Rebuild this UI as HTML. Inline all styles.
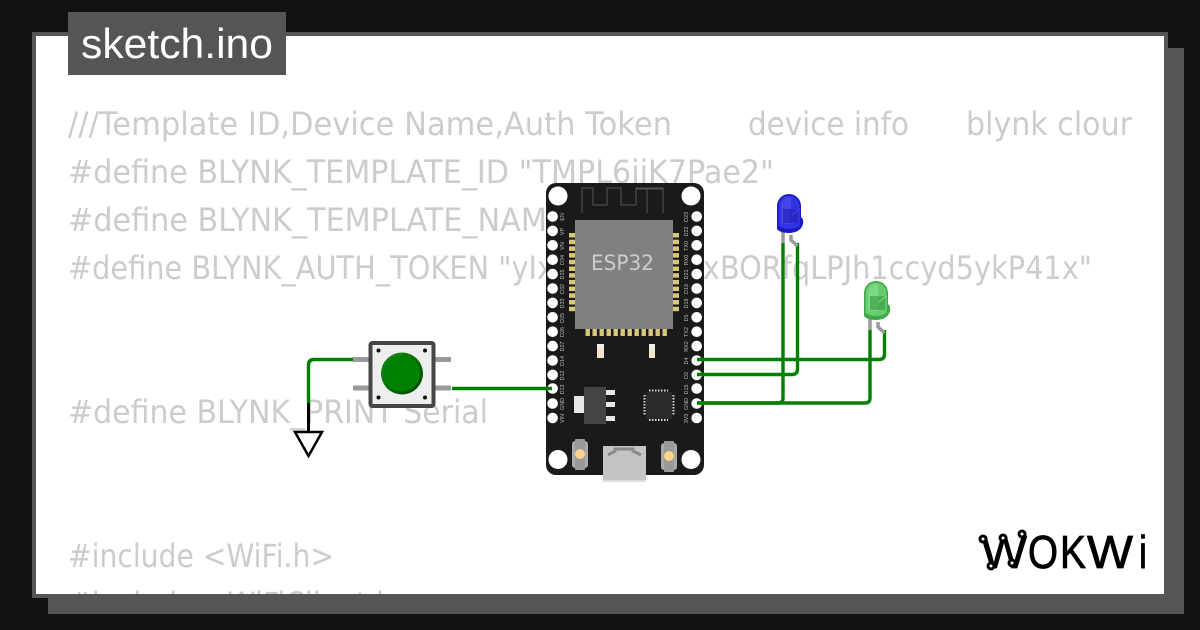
<!DOCTYPE html>
<html><head><meta charset="utf-8"><style>
html,body{margin:0;padding:0;background:#111}
svg{display:block}
</style></head><body>
<svg xmlns="http://www.w3.org/2000/svg" width="1200" height="630" viewBox="0 0 1200 630">
<defs>
<linearGradient id="btn" x1="0" y1="0" x2="1" y2="1"><stop offset="0" stop-color="#1f8a1f"/><stop offset=".55" stop-color="#006c00"/><stop offset="1" stop-color="#003c00"/></linearGradient>
</defs>
<rect width="1200" height="630" fill="#111"/>
<rect x="48" y="48" width="1136" height="566" fill="#555"/>
<rect x="32" y="32" width="1136" height="566" fill="#555"/>
<rect x="36" y="36" width="1128" height="558" fill="#fff"/>
<clipPath id="c"><rect x="36" y="36" width="1128" height="558"/></clipPath>
<g clip-path="url(#c)" font-family="'DejaVu Sans',sans-serif" font-size="32" fill="#ccc">
<text x="68" y="135" textLength="604" lengthAdjust="spacingAndGlyphs">///Template ID,Device Name,Auth Token</text>
<text x="748" y="135" textLength="161" lengthAdjust="spacingAndGlyphs">device info</text>
<text x="966" y="135" textLength="166" lengthAdjust="spacingAndGlyphs">blynk clour</text>
<text x="68" y="183" textLength="706" lengthAdjust="spacingAndGlyphs">#define BLYNK_TEMPLATE_ID "TMPL6jiK7Pae2"</text>
<text x="68" y="231" textLength="498" lengthAdjust="spacingAndGlyphs">#define BLYNK_TEMPLATE_NAME</text>
<text x="68" y="279" textLength="1024" lengthAdjust="spacingAndGlyphs">#define BLYNK_AUTH_TOKEN "yIxKcDqT3sQxBORfqLPJh1ccyd5ykP41x"</text>
<text x="68" y="423" textLength="420" lengthAdjust="spacingAndGlyphs">#define BLYNK_PRINT Serial</text>
<text x="68" y="567" textLength="266" lengthAdjust="spacingAndGlyphs">#include &lt;WiFi.h&gt;</text>
<text x="68" y="615" textLength="350" lengthAdjust="spacingAndGlyphs">#include &lt;WiFiClient.h&gt;</text>
</g>
<rect x="68" y="12" width="218" height="63" fill="#555"/>
<text x="81" y="58" font-family="'Liberation Sans',sans-serif" font-size="42" fill="#fff" textLength="192" lengthAdjust="spacingAndGlyphs">sketch.ino</text>

<!-- board -->
<rect x="546" y="183" width="158" height="292" rx="10" fill="#1a1a1a"/>
<path d="M582 213V188H593V205H607V188H621V205H636V188H663V213M647 188V213M582 188H593M636 189H663" fill="none" stroke="#555" stroke-width="1"/>
<g fill="#fff">
<circle cx="558" cy="196" r="9.5"/><circle cx="691" cy="196" r="9.5"/>
<circle cx="558" cy="459.5" r="9.5"/><circle cx="691" cy="459.5" r="9.5"/>
</g>
<g fill="#fff" id="holes">
<circle cx="552.6" cy="216.5" r="5.3"/><circle cx="552.6" cy="230.9" r="5.3"/><circle cx="552.6" cy="245.3" r="5.3"/><circle cx="552.6" cy="259.7" r="5.3"/><circle cx="552.6" cy="274.1" r="5.3"/><circle cx="552.6" cy="288.5" r="5.3"/><circle cx="552.6" cy="302.9" r="5.3"/><circle cx="552.6" cy="317.3" r="5.3"/><circle cx="552.6" cy="331.7" r="5.3"/><circle cx="552.6" cy="346.1" r="5.3"/><circle cx="552.6" cy="360.5" r="5.3"/><circle cx="552.6" cy="374.9" r="5.3"/><circle cx="552.6" cy="388.5" r="5.3"/><circle cx="552.6" cy="403.5" r="5.3"/><circle cx="552.6" cy="418" r="5.3"/>
<circle cx="696.7" cy="216.5" r="5.3"/><circle cx="696.7" cy="230.9" r="5.3"/><circle cx="696.7" cy="245.3" r="5.3"/><circle cx="696.7" cy="259.7" r="5.3"/><circle cx="696.7" cy="274.1" r="5.3"/><circle cx="696.7" cy="288.5" r="5.3"/><circle cx="696.7" cy="302.9" r="5.3"/><circle cx="696.7" cy="317.3" r="5.3"/><circle cx="696.7" cy="331.7" r="5.3"/><circle cx="696.7" cy="346.1" r="5.3"/><circle cx="696.7" cy="360.5" r="5.3"/><circle cx="696.7" cy="374.9" r="5.3"/><circle cx="696.7" cy="388.5" r="5.3"/><circle cx="696.7" cy="403.5" r="5.3"/><circle cx="696.7" cy="418" r="5.3"/>
</g>
<!-- gold pads -->
<g fill="#d8c878">
<rect x="569" y="233" width="6" height="4.5"/><rect x="569" y="239.7" width="6" height="4.5"/><rect x="569" y="246.4" width="6" height="4.5"/><rect x="569" y="253.1" width="6" height="4.5"/><rect x="569" y="259.8" width="6" height="4.5"/><rect x="569" y="266.5" width="6" height="4.5"/><rect x="569" y="273.2" width="6" height="4.5"/><rect x="569" y="279.9" width="6" height="4.5"/><rect x="569" y="286.6" width="6" height="4.5"/><rect x="569" y="293.3" width="6" height="4.5"/><rect x="569" y="300" width="6" height="4.5"/><rect x="569" y="306.7" width="6" height="4.5"/>
<rect x="673" y="233" width="6" height="4.5"/><rect x="673" y="239.7" width="6" height="4.5"/><rect x="673" y="246.4" width="6" height="4.5"/><rect x="673" y="253.1" width="6" height="4.5"/><rect x="673" y="259.8" width="6" height="4.5"/><rect x="673" y="266.5" width="6" height="4.5"/><rect x="673" y="273.2" width="6" height="4.5"/><rect x="673" y="279.9" width="6" height="4.5"/><rect x="673" y="286.6" width="6" height="4.5"/><rect x="673" y="293.3" width="6" height="4.5"/><rect x="673" y="300" width="6" height="4.5"/><rect x="673" y="306.7" width="6" height="4.5"/>
<rect x="585.5" y="329" width="4.4" height="7"/><rect x="592.5" y="329" width="4.4" height="7"/><rect x="599.5" y="329" width="4.4" height="7"/><rect x="606.5" y="329" width="4.4" height="7"/><rect x="613.5" y="329" width="4.4" height="7"/><rect x="620.5" y="329" width="4.4" height="7"/><rect x="627.5" y="329" width="4.4" height="7"/><rect x="634.5" y="329" width="4.4" height="7"/><rect x="641.5" y="329" width="4.4" height="7"/><rect x="648.5" y="329" width="4.4" height="7"/><rect x="655.5" y="329" width="4.4" height="7"/><rect x="662.5" y="329" width="4.4" height="7"/>
</g>
<rect x="575" y="220" width="98" height="109" fill="#808080"/>
<text x="591" y="270" font-family="'DejaVu Sans',sans-serif" font-size="21" fill="#ccc" textLength="63" lengthAdjust="spacingAndGlyphs">ESP32</text>
<!-- pin labels -->
<g font-family="'Liberation Sans',sans-serif" font-size="5.4" fill="#bbb" text-anchor="middle">
<text transform="translate(564,217) rotate(-90)">EN</text>
<text transform="translate(564,231.5) rotate(-90)">VP</text>
<text transform="translate(564,246) rotate(-90)">VN</text>
<text transform="translate(564,260) rotate(-90)">D34</text>
<text transform="translate(564,274.5) rotate(-90)">D35</text>
<text transform="translate(564,289) rotate(-90)">D32</text>
<text transform="translate(564,303.5) rotate(-90)">D33</text>
<text transform="translate(564,318) rotate(-90)">D25</text>
<text transform="translate(564,332) rotate(-90)">D26</text>
<text transform="translate(564,346.5) rotate(-90)">D27</text>
<text transform="translate(564,361) rotate(-90)">D14</text>
<text transform="translate(564,375.5) rotate(-90)">D12</text>
<text transform="translate(564,389.5) rotate(-90)">D13</text>
<text transform="translate(564,404) rotate(-90)">GND</text>
<text transform="translate(564,418.5) rotate(-90)">VIN</text>
<text transform="translate(688,217) rotate(-90)">D23</text>
<text transform="translate(688,231.5) rotate(-90)">D22</text>
<text transform="translate(688,246) rotate(-90)">TX0</text>
<text transform="translate(688,260) rotate(-90)">RX0</text>
<text transform="translate(688,274.5) rotate(-90)">D21</text>
<text transform="translate(688,289) rotate(-90)">D19</text>
<text transform="translate(688,303.5) rotate(-90)">D18</text>
<text transform="translate(688,318) rotate(-90)">D5</text>
<text transform="translate(688,332) rotate(-90)">TX2</text>
<text transform="translate(688,346.5) rotate(-90)">RX2</text>
<text transform="translate(688,361) rotate(-90)">D4</text>
<text transform="translate(688,375.5) rotate(-90)">D2</text>
<text transform="translate(688,389.5) rotate(-90)">D15</text>
<text transform="translate(688,404) rotate(-90)">GND</text>
<text transform="translate(688,418.5) rotate(-90)">3V3</text>
</g>
<!-- smd leds -->
<rect x="597" y="344" width="7" height="14" fill="#eee"/><rect x="597" y="349" width="7" height="9" fill="#f5e6c8"/>
<rect x="649" y="344" width="6" height="14" fill="#eee"/><rect x="649" y="349" width="6" height="9" fill="#f5e6c8"/>
<!-- regulator -->
<rect x="574" y="396" width="11" height="17" fill="#e8e8e8"/>
<rect x="606" y="390" width="9" height="5" fill="#e8e8e8"/><rect x="606" y="402" width="9" height="5" fill="#e8e8e8"/><rect x="606" y="416" width="9" height="5" fill="#e8e8e8"/>
<rect x="584" y="387" width="22" height="37" fill="#444"/>
<!-- qfn -->
<rect x="646" y="392" width="26" height="27" fill="#2b2b2b"/>
<g fill="none" stroke="#ddd" stroke-width="2" stroke-dasharray="1.5 1.5">
<path d="M649 390.5H668M649 420H668M644.5 395V416M673.5 395V416"/>
</g>
<!-- tact buttons -->
<rect x="572" y="441" width="16" height="27" rx="3" fill="#aaa"/>
<rect x="575" y="439" width="10" height="31" rx="1" fill="#999"/>
<circle cx="580" cy="454" r="5" fill="#fbd38d"/>
<rect x="661" y="443" width="16" height="27" rx="3" fill="#aaa"/>
<rect x="664" y="441" width="10" height="31" rx="1" fill="#999"/>
<circle cx="669" cy="456" r="5" fill="#fbd38d"/>
<!-- usb -->
<rect x="603" y="446" width="43" height="35" fill="#c4c4c4"/>
<path d="M608 455L615 451L615 449H633V451L641 455" fill="none" stroke="#8a8a8a" stroke-width="3"/>
<path d="M603 481H646" stroke="#ddd" stroke-width="2"/>

<!-- wires -->
<g fill="none" stroke="#008000" stroke-width="3.4">
<path d="M355 359.5H314Q308.5 359.5 308.5 365V403"/>
<path d="M452 388.5H552"/>
<path d="M697 359.5H879Q884.5 359.5 884.5 354V330"/>
<path d="M697 374.5H792Q797.5 374.5 797.5 369V243"/>
<path d="M697 403H778Q783 403 783 398V243"/>
<path d="M697 403H865Q870 403 870 398V330"/>
</g>
<!-- gnd -->
<path d="M308.5 403V431" stroke="#000" stroke-width="3"/>
<path d="M295 432H322L308.5 456Z" fill="#fff" stroke="#000" stroke-width="2.5" stroke-linejoin="miter"/>
<!-- pushbutton -->
<g fill="none" stroke="#9a9a9a" stroke-width="5">
<path d="M353 359.5H369M353 388H369M435 359.5H451M435 388H451"/>
</g>
<rect x="370.5" y="343" width="63" height="63" rx="2" fill="#eee" stroke="#464646" stroke-width="4"/>
<g fill="#111"><circle cx="378.5" cy="350.5" r="2"/><circle cx="425" cy="350.5" r="2"/><circle cx="378.5" cy="397.5" r="2"/><circle cx="425" cy="397.5" r="2"/></g>
<circle cx="402" cy="373.5" r="21" fill="url(#btn)"/>
<circle cx="402" cy="373.5" r="18" fill="#008000"/>

<!-- blue led -->
<g fill="none" stroke="#999" stroke-width="3.5">
<path d="M783 232V243"/><path d="M791 235V240L797.5 246"/>
</g>
<path d="M777 229V206A12 12 0 0 1 801 206V217Q804 219 803 224Q801 232 790 233Q780 233 777 229Z" fill="#1a1ac0"/>
<path d="M778.5 226V206A10.5 10.5 0 0 1 799.5 206V226Q789 232 778.5 226Z" fill="#3333e6"/>
<path d="M781 205A8 9 0 0 1 789 197H791V224H781Z" fill="#5050ee" opacity=".6"/>
<rect x="783" y="209" width="16" height="14" fill="#2424b8" opacity=".7"/>
<path d="M792 215L799 209V223" fill="none" stroke="#4848f0" stroke-width="1"/>

<!-- green led -->
<g fill="none" stroke="#999" stroke-width="3.5">
<path d="M870 319V330"/><path d="M878 322V327L884.5 333"/>
</g>
<path d="M864 316V293A12 12 0 0 1 888 293V304Q891 306 890 311Q888 319 877 320Q867 320 864 316Z" fill="#3fa64a"/>
<path d="M865.5 313V293A10.5 10.5 0 0 1 886.5 293V313Q876 319 865.5 313Z" fill="#66cc6e"/>
<path d="M868 292A8 9 0 0 1 876 284H878V311H868Z" fill="#8ae090" opacity=".6"/>
<rect x="870" y="296" width="16" height="14" fill="#3f9f48" opacity=".7"/>
<path d="M879 302L886 296V310" fill="none" stroke="#7fe085" stroke-width="1"/>

<!-- logo -->
<g font-family="'Liberation Sans',sans-serif" font-size="46" fill="#000" stroke="#000" stroke-width=".8">
<text x="981" y="568" textLength="46" lengthAdjust="spacingAndGlyphs">W</text>
<text x="1028" y="568" textLength="30" lengthAdjust="spacingAndGlyphs">O</text>
<text x="1060" y="568" textLength="26" lengthAdjust="spacingAndGlyphs">K</text>
<text x="1087" y="568" textLength="46" lengthAdjust="spacingAndGlyphs">W</text>
<text x="1139" y="568" textLength="8" lengthAdjust="spacingAndGlyphs">i</text>
</g>
<g fill="#fff" stroke="#000" stroke-width="3">
<circle cx="983" cy="539" r="3"/><circle cx="1003" cy="538" r="3"/><circle cx="1022" cy="534" r="3"/><circle cx="991" cy="566" r="3"/><circle cx="1012" cy="563" r="3"/>
</g>
</svg>
</body></html>
